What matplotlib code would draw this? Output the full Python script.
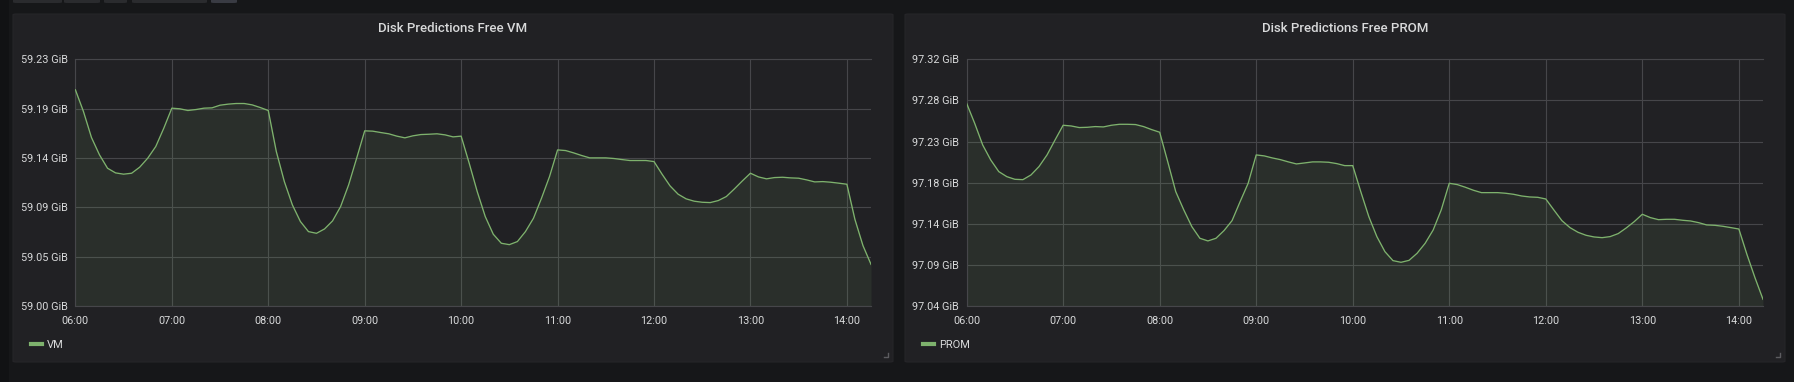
import matplotlib
matplotlib.use("Agg")
import matplotlib.pyplot as plt
import matplotlib.dates as mdates
from matplotlib.patches import FancyBboxPatch, Rectangle
from matplotlib.lines import Line2D
import pandas as pd

# ---------------- data (GiB, 5-minute samples from 06:00) ----------------
vm_free = [
    59.2033, 59.1829, 59.1583, 59.1419, 59.1293, 59.1249, 59.1237, 59.1246, 59.1303, 59.1388,
    59.1498, 59.1671, 59.1860, 59.1854, 59.1838, 59.1847, 59.1860, 59.1863, 59.1888, 59.1898,
    59.1904, 59.1904, 59.1891, 59.1866, 59.1838, 59.1451, 59.1167, 59.0947, 59.0790, 59.0695,
    59.0679, 59.0720, 59.0796, 59.0931, 59.1136, 59.1388, 59.1646, 59.1643, 59.1630, 59.1618,
    59.1596, 59.1580, 59.1599, 59.1611, 59.1614, 59.1618, 59.1608, 59.1589, 59.1596, 59.1341,
    59.1073, 59.0837, 59.0670, 59.0585, 59.0572, 59.0601, 59.0695, 59.0821, 59.1010, 59.1215,
    59.1466, 59.1460, 59.1438, 59.1413, 59.1391, 59.1391, 59.1391, 59.1385, 59.1375, 59.1366,
    59.1366, 59.1366, 59.1356, 59.1237, 59.1126, 59.1048, 59.1004, 59.0982, 59.0972, 59.0969,
    59.0988, 59.1026, 59.1098, 59.1174, 59.1246, 59.1211, 59.1193, 59.1205, 59.1208, 59.1202,
    59.1199, 59.1183, 59.1164, 59.1167, 59.1161, 59.1152, 59.1142, 59.0810, 59.0563, 59.0386,
]
prom_free = [
    97.2734, 97.2508, 97.2262, 97.2092, 97.1960, 97.1903, 97.1873, 97.1869, 97.1922, 97.2017,
    97.2149, 97.2319, 97.2485, 97.2477, 97.2459, 97.2462, 97.2470, 97.2466, 97.2485, 97.2496,
    97.2496, 97.2493, 97.2470, 97.2436, 97.2406, 97.2073, 97.1733, 97.1526, 97.1337, 97.1205,
    97.1175, 97.1205, 97.1292, 97.1405, 97.1620, 97.1828, 97.2149, 97.2138, 97.2115, 97.2096,
    97.2070, 97.2047, 97.2058, 97.2070, 97.2070, 97.2066, 97.2051, 97.2028, 97.2028, 97.1733,
    97.1450, 97.1224, 97.1054, 97.0952, 97.0933, 97.0955, 97.1035, 97.1148, 97.1299, 97.1526,
    97.1828, 97.1813, 97.1783, 97.1749, 97.1722, 97.1722, 97.1722, 97.1715, 97.1703, 97.1684,
    97.1673, 97.1669, 97.1650, 97.1526, 97.1405, 97.1326, 97.1273, 97.1239, 97.1220, 97.1212,
    97.1224, 97.1258, 97.1322, 97.1394, 97.1477, 97.1439, 97.1416, 97.1420, 97.1420, 97.1409,
    97.1401, 97.1382, 97.1356, 97.1352, 97.1341, 97.1326, 97.1310, 97.1023, 97.0759, 97.0514,
]
start_time = "2021-01-01 06:00"
sample_freq = "5min"

vm_yticks = [58.99929, 59.04586, 59.09243, 59.13899, 59.18556, 59.23212]
prom_yticks = [97.04381, 97.09038, 97.13694, 97.18351, 97.23007, 97.27664, 97.32320]

titles = ["Disk Predictions Free VM", "Disk Predictions Free PROM"]
series_names = ["VM", "PROM"]

# ---------------- style ----------------
W, H = 1794, 382
PAGE_BG = "#161719"
PANEL_BG = "#212124"
GRID = "#46464a"
TEXT = "#d8d9da"
GREEN = "#7eb26d"
FONT = ["Roboto", "DejaVu Sans"]

plt.rcParams["font.family"] = FONT

fig = plt.figure(figsize=(W / 100, H / 100), dpi=100, facecolor=PAGE_BG)


def fx(px):
    return px / W


def fy(py):
    return 1 - py / H


# darker strip at the far left edge
fig.add_artist(Rectangle((0, 0), fx(9), 1, transform=fig.transFigure,
                         facecolor="#111214", edgecolor="none", zorder=0))

# top toolbar buttons (partially visible)
for x0, x1, c in [(13, 62, "#2a2b2e"), (64, 100, "#2a2b2e"), (104, 127, "#2a2b2e"),
                  (132, 207, "#2a2b2e"), (211, 237, "#393b43")]:
    fig.add_artist(FancyBboxPatch((fx(x0), fy(3)), fx(x1 - x0), 6 / H,
                                  boxstyle="round,pad=0,rounding_size=0.002",
                                  transform=fig.transFigure, facecolor=c,
                                  edgecolor="none", zorder=0))

panels = [
    dict(px0=13, px1=893, ax0=75.4, ax1=871, data=vm_free, ticks=vm_yticks),
    dict(px0=905, px1=1785, ax0=966.6, ax1=1763, data=prom_free, ticks=prom_yticks),
]

times = pd.date_range(start_time, periods=len(vm_free), freq=sample_freq)

for i, p in enumerate(panels):
    # panel background
    fig.add_artist(FancyBboxPatch((fx(p["px0"]), fy(362)), fx(p["px1"] - p["px0"]), (362 - 14) / H,
                                  boxstyle="round,pad=0,rounding_size=0.002",
                                  transform=fig.transFigure, facecolor=PANEL_BG,
                                  edgecolor="#262629", linewidth=0.8, zorder=0))
    # resize corner mark
    cx, cy = p["px1"] - 5, 357
    fig.add_artist(Line2D([fx(cx - 4), fx(cx), fx(cx)], [fy(cy), fy(cy), fy(cy - 4)],
                          transform=fig.transFigure, color="#5c5c60", lw=1.0))

    ax = fig.add_axes([fx(p["ax0"]), fy(306), fx(p["ax1"] - p["ax0"]), (306 - 59.3) / H])
    ax.set_facecolor(PANEL_BG)
    ax.patch.set_alpha(0)

    vals = p["data"]
    ax.fill_between(times, p["ticks"][0], vals, color=GREEN, alpha=0.1, linewidth=0, zorder=2)
    ax.plot(times, vals, color=GREEN, lw=0.95, zorder=3)

    ax.set_xlim(times[0], times[-1])
    ax.set_ylim(p["ticks"][0], p["ticks"][-1])
    ax.set_yticks(p["ticks"])
    ax.set_yticklabels([f"{v:.2f} GiB" for v in p["ticks"]])
    ax.xaxis.set_major_locator(mdates.HourLocator())
    ax.xaxis.set_major_formatter(mdates.DateFormatter("%H:%M"))

    ax.grid(True, color=GRID, lw=0.8, zorder=1)
    ax.set_axisbelow(True)
    ax.tick_params(axis="both", length=0, colors=TEXT, labelsize=7.8)
    ax.tick_params(axis="y", pad=5.5)
    ax.tick_params(axis="x", pad=7)
    for side in ["left", "bottom", "top"]:
        ax.spines[side].set_color(GRID)
        ax.spines[side].set_linewidth(0.8)
    ax.spines["right"].set_visible(False)

    # title
    fig.text(fx((p["px0"] + p["px1"]) / 2), fy(28), titles[i], ha="center", va="center",
             color=TEXT, fontsize=9.5, fontweight="medium")

    # legend
    ax.legend(handles=[Line2D([], [], color=GREEN, lw=3)], labels=[series_names[i]],
              loc="center left", bbox_to_anchor=(fx(p["px0"] + 18), fy(345)),
              bbox_transform=fig.transFigure, frameon=False, handlelength=1.0,
              handletextpad=0.45, borderpad=0, borderaxespad=0, fontsize=8,
              labelcolor=TEXT)

fig.savefig("out.png", dpi=100, facecolor=PAGE_BG)
